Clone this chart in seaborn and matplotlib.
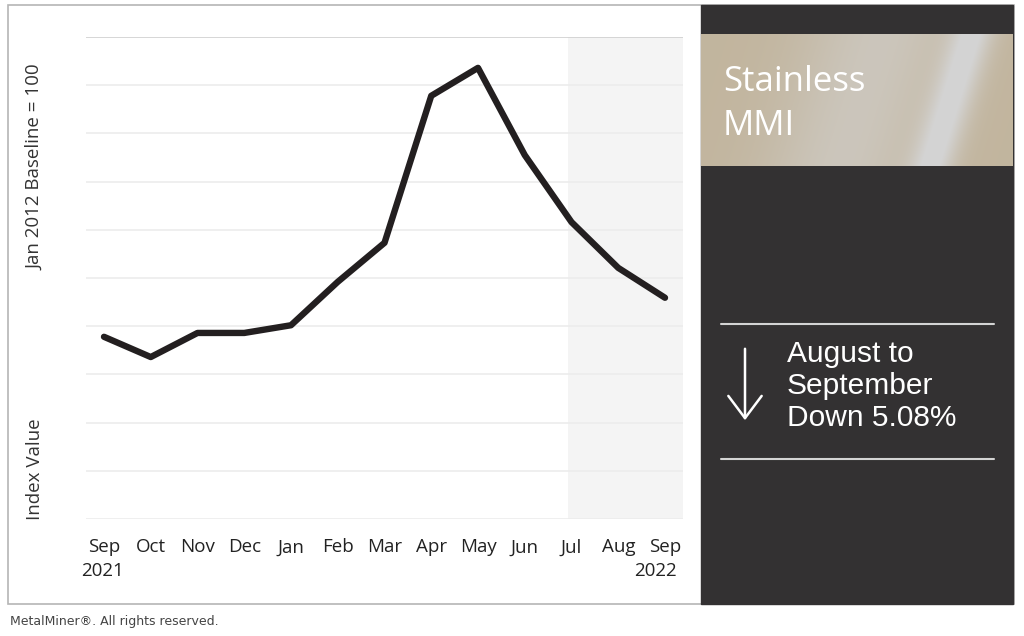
import matplotlib.pyplot as plt
import matplotlib.patches as patches
import numpy as np
import pandas as pd
import seaborn as sns

# data (index units, arbitrary baseline)
months = ["Sep", "Oct", "Nov", "Dec", "Jan", "Feb", "Mar", "Apr", "May", "Jun", "Jul", "Aug", "Sep"]
index_value = [215.6, 207.2, 217.2, 217.2, 220.4, 238.4, 254.6, 315.6, 327.2, 291.0, 263.2, 244.2, 231.8]
change_text = "August to\nSeptember\nDown 5.08%"

sns.set_theme(style="white")
plt.rcParams['font.family'] = ['Open Sans', 'DejaVu Sans']

df = pd.DataFrame({"pos": np.arange(len(months)), "value": index_value})

fig = plt.figure(figsize=(10.24, 6.36), dpi=100)
W, H = 1024, 636

def fx(px):
    return px / W

def fy(py):
    return 1 - py / H

# outer frame
fig.patches.append(patches.Rectangle((fx(8), fy(604)), fx(1006), 599 / H, transform=fig.transFigure,
                                     fill=False, edgecolor="#b5b5b5", linewidth=1.2, zorder=-2))

ax = fig.add_axes([fx(86), fy(519), fx(683 - 86), (519 - 37) / H])
ax.axvspan(9.93, 13, color="#f4f4f4", zorder=0, linewidth=0)
for g in np.arange(140, 341, 20):
    ax.axhline(g, color="#cfcfcf" if g == 340 else "#ececec", linewidth=1.2, zorder=1)
sns.lineplot(data=df, x="pos", y="value", ax=ax, color="#231f20", linewidth=4.6, zorder=3)
ax.set_xlim(-0.385, 12.385)
ax.set_ylim(140, 340)
ax.set_xticks(df["pos"])
ax.set_xticklabels(months, fontsize=13.5, color="#222222")
ax.tick_params(axis="x", length=0, pad=14)
ax.set_yticks([])
ax.set_xlabel("")
ax.set_ylabel("")
for s in ax.spines.values():
    s.set_visible(False)

fig.text(fx(81), fy(571), "2021", fontsize=13.5, color="#222222", va="center", ha="left")
fig.text(fx(677), fy(571), "2022", fontsize=13.5, color="#222222", va="center", ha="right")

fig.text(fx(35), fy(167), "Jan 2012 Baseline = 100", rotation=90, fontsize=13.5,
         color="#333333", ha="center", va="center")
fig.text(fx(35), fy(469), "Index Value", rotation=90, fontsize=13.5,
         color="#333333", ha="center", va="center")

# right dark panel
fig.patches.append(patches.Rectangle((fx(701), fy(604)), fx(1013 - 701), 599 / H,
                                     transform=fig.transFigure, color="#333132", zorder=-1))

# metallic header band
band = fig.add_axes([fx(701), fy(166), fx(1013 - 701), (166 - 34) / H])
gx = np.linspace(0, 1, 400)
gy = np.linspace(0, 1, 80)
GX, GY = np.meshgrid(gx, gy)
t = GX - 0.13 * GY
shine = np.clip(np.exp(-((t - 0.74) / 0.07) ** 2) + 0.55 * np.exp(-((t - 0.45) / 0.25) ** 2), 0, 1)
tan = np.array([0.76, 0.71, 0.62])
silver = np.array([0.83, 0.83, 0.83])
img = tan[None, None, :] * (1 - shine)[..., None] + silver[None, None, :] * shine[..., None]
band.imshow(img, aspect="auto", extent=(0, 1, 0, 1), origin="lower")
band.set_axis_off()
band.text(0.07, 0.47, "Stainless\nMMI", color="white", fontsize=25, va="center", ha="left",
          linespacing=1.36, transform=band.transAxes)

# summary block
fig.lines.append(plt.Line2D([fx(721), fx(994)], [fy(324), fy(324)], transform=fig.transFigure,
                            color="#d4d4d4", linewidth=1.5))
fig.lines.append(plt.Line2D([fx(721), fx(994)], [fy(459), fy(459)], transform=fig.transFigure,
                            color="#d4d4d4", linewidth=1.5))
fig.patches.append(patches.FancyArrowPatch((fx(745), fy(346)), (fx(745), fy(423)),
                                           transform=fig.transFigure, arrowstyle="->,head_length=8,head_width=6",
                                           color="white", linewidth=1.8, mutation_scale=2))
fig.text(fx(787), fy(386), change_text, color="white", fontsize=21.5, family=["Liberation Sans", "DejaVu Sans"],
         ha="left", va="center", linespacing=1.2)

fig.text(fx(10), fy(621), "MetalMiner®. All rights reserved.", fontsize=9, color="#444444",
         family=["DejaVu Sans"], ha="left", va="center")

fig.savefig("out.png", dpi=100, facecolor="white")
